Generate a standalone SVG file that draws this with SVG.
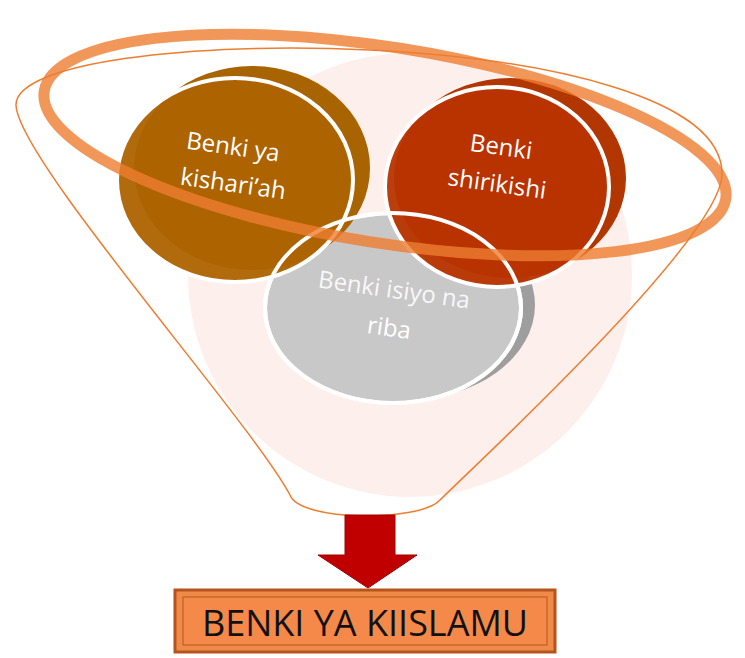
<svg xmlns="http://www.w3.org/2000/svg" width="745" height="658" viewBox="0 0 745 658">
<style>
.lbl{font-family:"Open Sans","Liberation Sans",sans-serif;fill:#fff;font-size:24px;text-anchor:middle}
.circ{stroke:#fff;stroke-width:4}
</style>
<rect width="745" height="658" fill="#fff"/>
<g id="backdrop"><circle cx="410" cy="275" r="222" fill="#fdf0ec"/></g>
<g id="funnel">
<path d="M16,105 C15,20 725,20 722,175 C720,240 470,470 440,500 C420,522 300,522 290,495 C250,420 18,160 16,105 Z" fill="none" stroke="#ed7d31" stroke-width="1.5"/>
</g>
<g id="n3">
<ellipse cx="405" cy="305" rx="130" ry="95" fill="#9e9e9e"/>
<ellipse cx="393" cy="308" rx="128" ry="95" class="circ" fill="#c8c8c8"/>
<text class="lbl" x="393" y="298" transform="rotate(8 393 298)" fill-opacity="0.9">Benki isiyo na</text>
<text class="lbl" x="388" y="336" transform="rotate(8 388 336)">riba</text>
</g>
<g id="n1">
<ellipse cx="252" cy="168" rx="118" ry="102" fill="#a86400"/>
<ellipse cx="235" cy="180" rx="118" ry="102" class="circ" fill="#ad6300" fill-opacity="0.95"/>
<text class="lbl" x="232" y="155" transform="rotate(8 232 155)">Benki ya</text>
<text class="lbl" x="232" y="192" transform="rotate(8 232 192)">kishari’ah</text>
</g>
<g id="n2">
<ellipse cx="510" cy="178" rx="116" ry="100" fill="#b23600"/>
<ellipse cx="497" cy="187" rx="112" ry="100" class="circ" fill="#b83400" fill-opacity="0.95"/>
<text class="lbl" x="500" y="155" transform="rotate(8 500 155)">Benki</text>
<text class="lbl" x="496" y="192" transform="rotate(8 496 192)">shirikishi</text>
</g>
<g id="n3-outline"><ellipse cx="393" cy="308" rx="128" ry="95" fill="none" stroke="#fff" stroke-width="4"/></g>
<g id="ring">
<ellipse cx="385" cy="145" rx="345" ry="98" transform="rotate(9 385 145)" fill="none" stroke="#ed7d31" stroke-width="11" stroke-opacity="0.8"/>
</g>
<g id="connectors">
<path d="M345,515 L395,515 L395,555 L417,555 L368,588 L318,555 L345,555 Z" fill="#c00000" stroke="#a00000"/>
</g>
<g id="result">
<rect x="175" y="590" width="380" height="62" fill="#f08a48" stroke="#b5541c" stroke-width="3"/>
<rect x="183" y="597" width="364" height="48" fill="#f4894a" stroke="#c8682e" stroke-width="1.5"/>
<text x="365" y="636" font-family="Open Sans,Liberation Sans,sans-serif" font-size="36" text-anchor="middle" fill="#111">BENKI YA KIISLAMU</text>
</g>
</svg>
